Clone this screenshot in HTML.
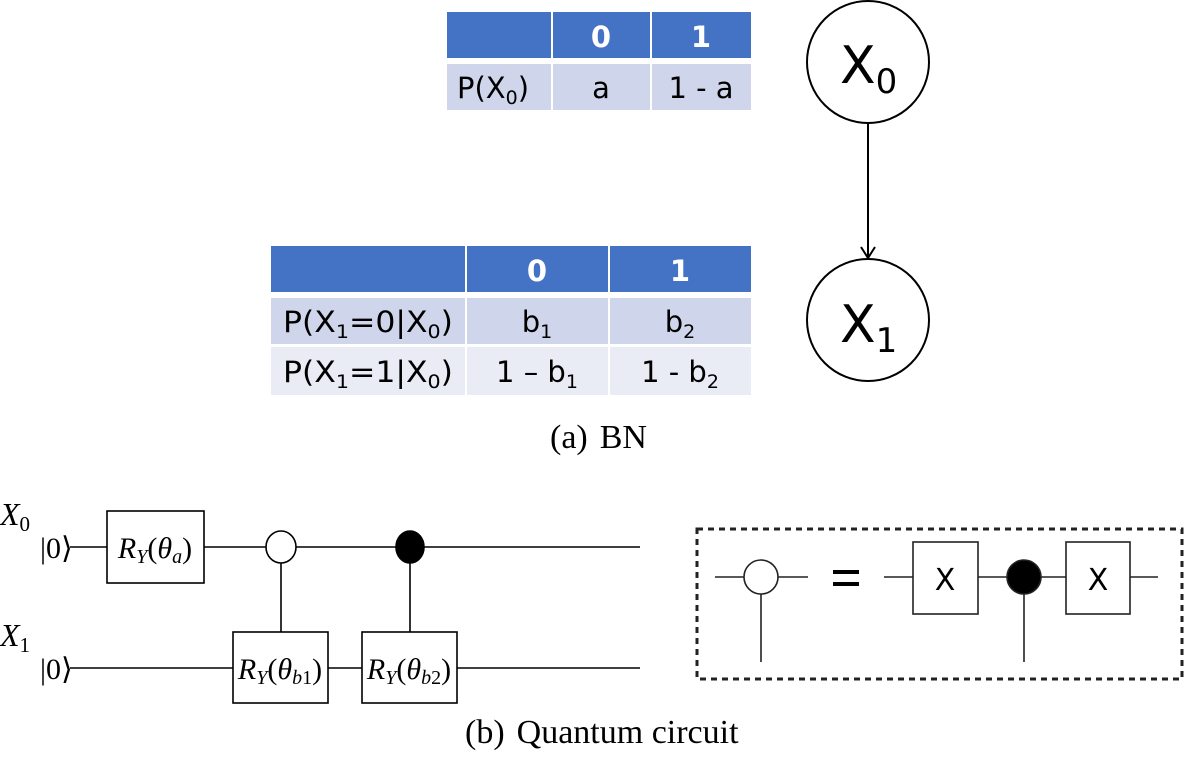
<!DOCTYPE html>
<html><head><meta charset="utf-8"><style>
body{margin:0;background:#fff;}
svg text{font-family:"DejaVu Sans","Liberation Sans",sans-serif;}
svg .s, svg .s text{font-family:"Liberation Serif",serif;}
</style></head><body>
<svg width="1200" height="752" viewBox="0 0 1200 752" xmlns="http://www.w3.org/2000/svg">
<!-- top table -->
<g font-size="29">
<rect x="447" y="12" width="104" height="46" fill="#4472c4"/>
<rect x="553" y="12" width="97" height="46" fill="#4472c4"/>
<rect x="652" y="12" width="99" height="46" fill="#4472c4"/>
<rect x="447" y="64" width="104" height="46" fill="#cfd5ea"/>
<rect x="553" y="64" width="97" height="46" fill="#cfd5ea"/>
<rect x="652" y="64" width="99" height="46" fill="#cfd5ea"/>
<text x="601" y="47" fill="#fff" font-weight="bold" text-anchor="middle">0</text>
<text x="701" y="47" fill="#fff" font-weight="bold" text-anchor="middle">1</text>
<text x="457" y="98">P(X<tspan font-size="19" dy="6">0</tspan><tspan dy="-6">)</tspan></text>
<text x="601" y="98" text-anchor="middle">a</text>
<text x="701" y="98" text-anchor="middle">1 - a</text>
</g>
<!-- bottom table -->
<g font-size="29">
<rect x="271" y="246" width="194" height="46" fill="#4472c4"/>
<rect x="467" y="246" width="141" height="46" fill="#4472c4"/>
<rect x="610" y="246" width="141" height="46" fill="#4472c4"/>
<rect x="271" y="298" width="194" height="46" fill="#cfd5ea"/>
<rect x="467" y="298" width="141" height="46" fill="#cfd5ea"/>
<rect x="610" y="298" width="141" height="46" fill="#cfd5ea"/>
<rect x="271" y="347" width="194" height="48" fill="#e9ebf5"/>
<rect x="467" y="347" width="141" height="48" fill="#e9ebf5"/>
<rect x="610" y="347" width="141" height="48" fill="#e9ebf5"/>
<text x="537" y="281" fill="#fff" font-weight="bold" text-anchor="middle">0</text>
<text x="680" y="281" fill="#fff" font-weight="bold" text-anchor="middle">1</text>
<text x="283" y="332" textLength="170" lengthAdjust="spacingAndGlyphs">P(X<tspan font-size="19" dy="6">1</tspan><tspan dy="-6">=0|X</tspan><tspan font-size="19" dy="6">0</tspan><tspan dy="-6">)</tspan></text>
<text x="283" y="382" textLength="170" lengthAdjust="spacingAndGlyphs">P(X<tspan font-size="19" dy="6">1</tspan><tspan dy="-6">=1|X</tspan><tspan font-size="19" dy="6">0</tspan><tspan dy="-6">)</tspan></text>
<text x="537" y="332" text-anchor="middle">b<tspan font-size="19" dy="6">1</tspan></text>
<text x="680" y="332" text-anchor="middle">b<tspan font-size="19" dy="6">2</tspan></text>
<text x="537" y="382" text-anchor="middle">1 – b<tspan font-size="19" dy="6">1</tspan></text>
<text x="680" y="382" text-anchor="middle">1 - b<tspan font-size="19" dy="6">2</tspan></text>
</g>
<!-- BN nodes -->
<circle cx="868" cy="62" r="61" fill="#fff" stroke="#000" stroke-width="2"/>
<circle cx="868" cy="320" r="61" fill="#fff" stroke="#000" stroke-width="2"/>
<text x="840" y="83" font-size="52">X<tspan font-size="34" dy="10">0</tspan></text>
<text x="840" y="342" font-size="52">X<tspan font-size="34" dy="10">1</tspan></text>
<line x1="868" y1="123" x2="868" y2="256" stroke="#000" stroke-width="2"/>
<polyline points="861,247 868,258 875,247" fill="none" stroke="#000" stroke-width="2"/>
<text x="550" y="448" class="s" font-size="34">(a)<tspan dx="12">BN</tspan></text>
<!-- circuit -->
<g stroke="#000" stroke-width="1.6" fill="none">
<line x1="70" y1="547" x2="640" y2="547"/>
<line x1="70" y1="668" x2="640" y2="668"/>
<rect x="107" y="511" width="97" height="72" fill="#fff"/>
<rect x="233" y="632" width="95" height="71" fill="#fff"/>
<rect x="362" y="632" width="95" height="71" fill="#fff"/>
<line x1="281" y1="547" x2="281" y2="632"/>
<line x1="410" y1="547" x2="410" y2="632"/>
<ellipse cx="281" cy="547" rx="15" ry="16" fill="#fff"/>
<ellipse cx="410" cy="547" rx="14" ry="16" fill="#000"/>
</g>
<g class="s" font-style="italic" font-size="32">
<text x="0" y="525">X<tspan font-size="21" dy="6" font-style="normal">0</tspan></text>
<text x="0" y="646">X<tspan font-size="21" dy="6" font-style="normal">1</tspan></text>
</g>
<g class="s" font-size="30">
<text x="40" y="558" fill="#000">|0⟩</text>
<text x="40" y="679" fill="#000">|0⟩</text>
<text x="155" y="558" text-anchor="middle"><tspan font-style="italic">R</tspan><tspan font-style="italic" font-size="20" dy="5">Y</tspan><tspan dy="-5">(</tspan><tspan font-style="italic">θ</tspan><tspan font-style="italic" font-size="20" dy="5">a</tspan><tspan dy="-5">)</tspan></text>
<text x="280" y="679" text-anchor="middle"><tspan font-style="italic">R</tspan><tspan font-style="italic" font-size="20" dy="5">Y</tspan><tspan dy="-5">(</tspan><tspan font-style="italic">θ</tspan><tspan font-style="italic" font-size="20" dy="5">b</tspan><tspan font-size="20">1</tspan><tspan dy="-5">)</tspan></text>
<text x="409" y="679" text-anchor="middle"><tspan font-style="italic">R</tspan><tspan font-style="italic" font-size="20" dy="5">Y</tspan><tspan dy="-5">(</tspan><tspan font-style="italic">θ</tspan><tspan font-style="italic" font-size="20" dy="5">b</tspan><tspan font-size="20">2</tspan><tspan dy="-5">)</tspan></text>
<text x="465" y="743" font-size="34">(b)<tspan dx="12">Quantum circuit</tspan></text>
</g>
<!-- dashed box -->
<rect x="697" y="529" width="485" height="150" fill="none" stroke="#222" stroke-width="3" stroke-dasharray="6,5"/>
<g stroke="#222" stroke-width="1.6" fill="none">
<line x1="715" y1="577" x2="808" y2="577"/>
<line x1="761" y1="577" x2="761" y2="662"/>
<circle cx="761" cy="577" r="17" fill="#fff"/>
<line x1="884" y1="577" x2="1158" y2="577"/>
<rect x="913" y="542" width="65" height="72" fill="#fff"/>
<rect x="1066" y="542" width="64" height="72" fill="#fff"/>
<line x1="1024" y1="577" x2="1024" y2="662"/>
<circle cx="1024" cy="577" r="17" fill="#000"/>
</g>
<rect x="833" y="570" width="26" height="4" fill="#000"/>
<rect x="833" y="582" width="26" height="4" fill="#000"/>
<text x="945" y="590" font-size="30" text-anchor="middle">X</text>
<text x="1098" y="590" font-size="30" text-anchor="middle">X</text>
</svg>
</body></html>
